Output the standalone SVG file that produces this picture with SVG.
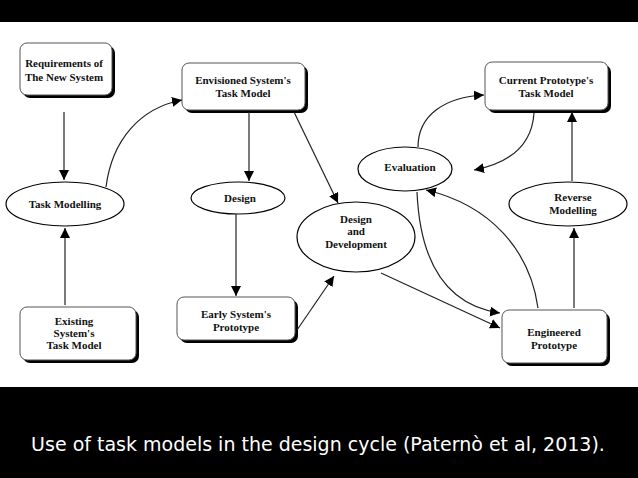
<svg xmlns="http://www.w3.org/2000/svg" width="638" height="478" viewBox="0 0 638 478">
<defs>
<marker id="a" viewBox="0 0 10 10" refX="10" refY="5" markerWidth="10" markerHeight="10" orient="auto" markerUnits="userSpaceOnUse"><path d="M0,0L10,5L0,10z" fill="#000"/></marker>
<style>
.t{font-family:"Liberation Serif",serif;font-weight:bold;font-size:11px;text-anchor:middle;fill:#111}
.b{fill:#fff;stroke:#555;stroke-width:1}
.s{fill:#000}
.e{fill:#fff;stroke:#000;stroke-width:1.2}
.c{fill:none;stroke:#222;stroke-width:1.2;marker-end:url(#a)}
</style>
</defs>
<rect width="638" height="478" fill="#000"/>
<rect x="0" y="22" width="638" height="365" fill="#fff"/>
<g id="req"><rect class="s" x="23" y="46" width="92" height="52" rx="7"/><rect class="b" x="20" y="43" width="92" height="52" rx="7"/><text class="t" x="64" y="67">Requirements of</text><text class="t" x="64" y="81">The New System</text></g>
<g id="env"><rect class="s" x="185" y="66" width="123" height="47" rx="7"/><rect class="b" x="182" y="63" width="123" height="47" rx="7"/><text class="t" x="243" y="84">Envisioned System's</text><text class="t" x="243" y="97">Task Model</text></g>
<g id="exist"><rect class="s" x="23" y="310" width="116" height="53" rx="7"/><rect class="b" x="20" y="307" width="116" height="53" rx="7"/><text class="t" x="74" y="325">Existing</text><text class="t" x="74" y="337">System's</text><text class="t" x="74" y="349">Task Model</text></g>
<g id="early"><rect class="s" x="180" y="300" width="118" height="43" rx="7"/><rect class="b" x="177" y="297" width="118" height="43" rx="7"/><text class="t" x="236" y="318">Early System's</text><text class="t" x="236" y="331">Prototype</text></g>
<g id="cur"><rect class="s" x="488" y="65" width="123" height="48" rx="7"/><rect class="b" x="485" y="62" width="123" height="48" rx="7"/><text class="t" x="546" y="84">Current Prototype's</text><text class="t" x="546" y="97">Task Model</text></g>
<g id="eng"><rect class="s" x="505" y="313" width="105" height="53" rx="7"/><rect class="b" x="502" y="310" width="105" height="53" rx="7"/><text class="t" x="554" y="336">Engineered</text><text class="t" x="554" y="349">Prototype</text></g>
<g id="tm"><ellipse class="e" cx="65" cy="204" rx="59" ry="22"/><text class="t" x="65" y="208">Task Modelling</text></g>
<g id="design"><ellipse class="e" cx="238" cy="198" rx="47" ry="16"/><text class="t" x="240" y="202">Design</text></g>
<g id="dd"><ellipse class="e" cx="356" cy="237" rx="59" ry="35"/><text class="t" x="356" y="223">Design</text><text class="t" x="356" y="235">and</text><text class="t" x="356" y="248">Development</text></g>
<g id="eval"><ellipse class="e" cx="405" cy="169" rx="47" ry="22"/><text class="t" x="410" y="171">Evaluation</text></g>
<g id="rev"><ellipse class="e" cx="568" cy="204" rx="59" ry="22"/><text class="t" x="573" y="201">Reverse</text><text class="t" x="573" y="214">Modelling</text></g>
<g id="connectors">
<path class="c" d="M64,112L64,180"/>
<path class="c" d="M65,305L65,228"/>
<path class="c" d="M106,187C112,140 140,108 182,100"/>
<path class="c" d="M249,112L249,181"/>
<path class="c" d="M236,214L236,296"/>
<path class="c" d="M294,112L338,203"/>
<path class="c" d="M297,330L334,276"/>
<path class="c" d="M381,273L500,328"/>
<path class="c" d="M418,147C418,115 445,97 484,95"/>
<path class="c" d="M534,113C532,145 510,163 474,170"/>
<path class="c" d="M417,192C420,260 445,305 500,313"/>
<path class="c" d="M538,308C530,250 490,205 426,190"/>
<path class="c" d="M572,181L572,112"/>
<path class="c" d="M574,308L574,228"/>
</g>
<text x="318" y="451" font-family="'DejaVu Sans',sans-serif" font-size="19" fill="#fff" text-anchor="middle">Use of task models in the design cycle (Paternò et al, 2013).</text>
</svg>
